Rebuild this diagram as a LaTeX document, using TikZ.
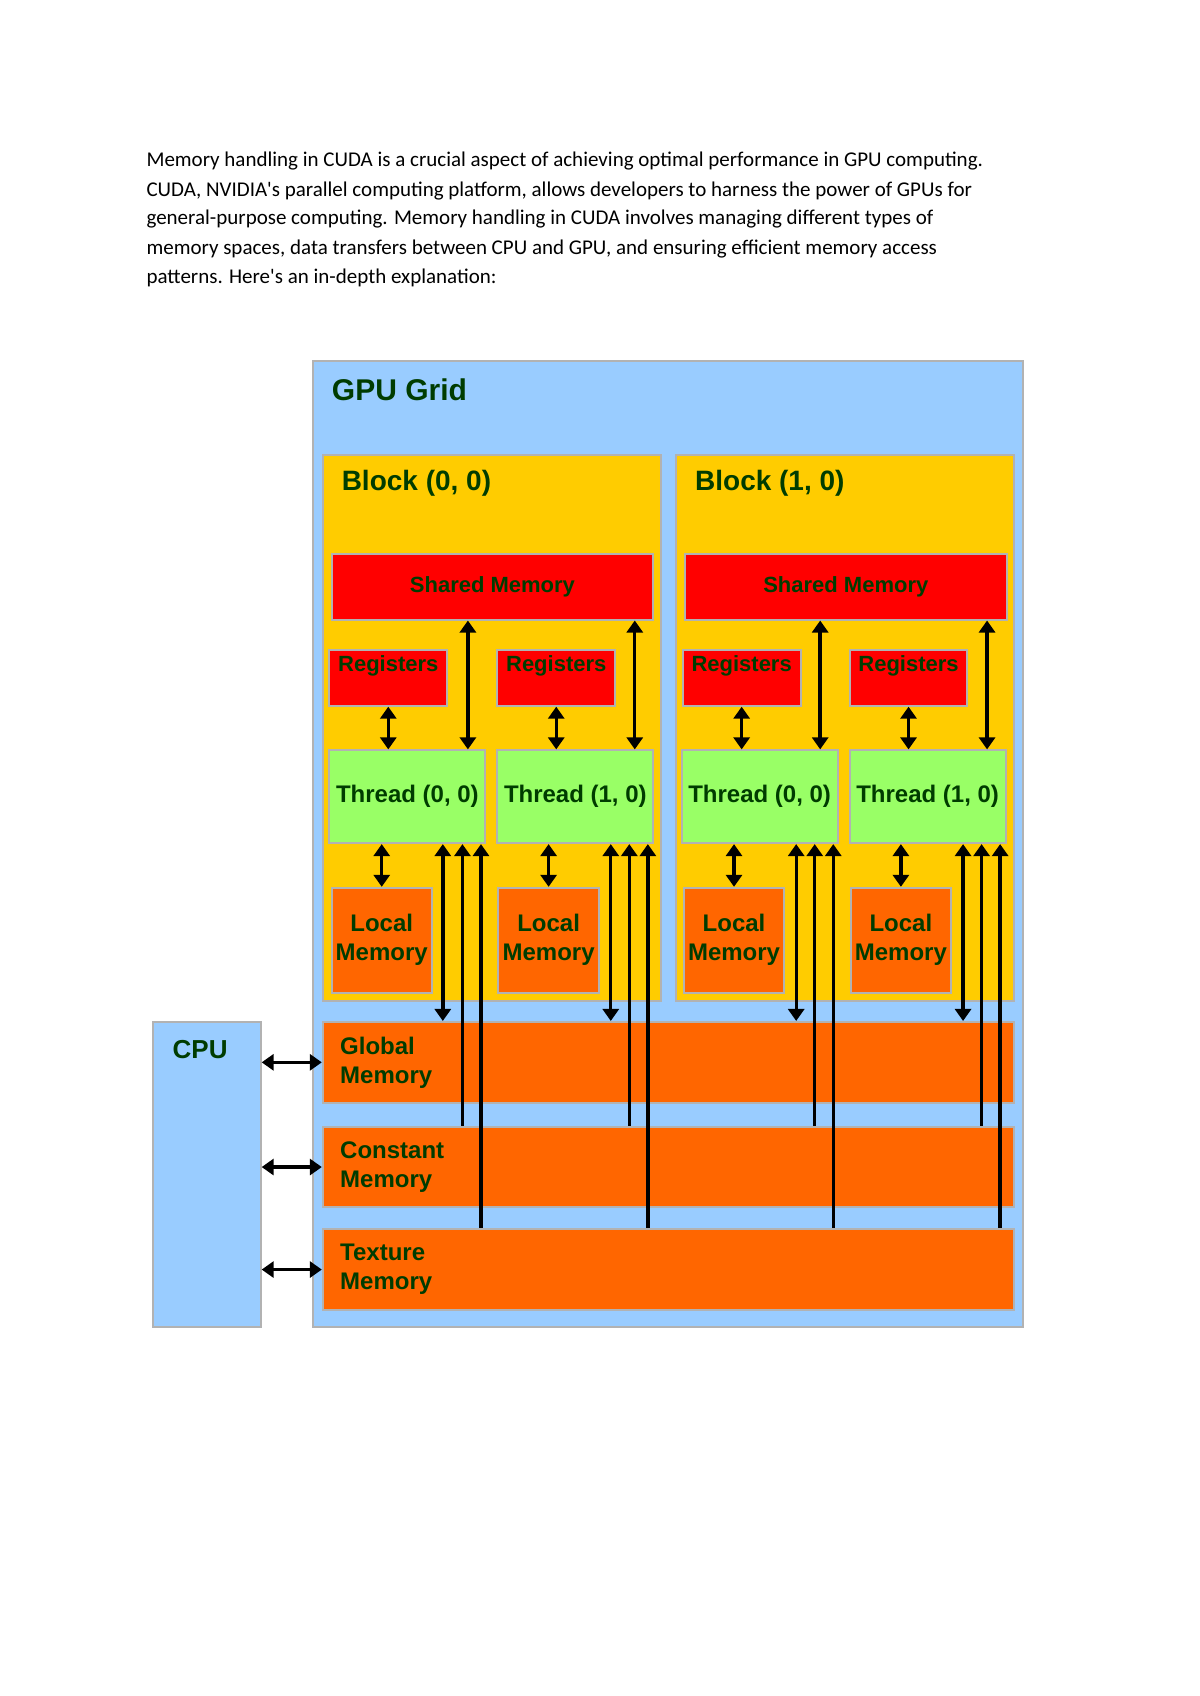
\documentclass[tikz,border=0pt]{standalone}
\usepackage{fontspec}
\setmainfont{Liberation Sans}
\newfontfamily\bodyfont{Carlito}
\usetikzlibrary{arrows.meta,fit}
\definecolor{gridblue}{RGB}{153,204,255}
\definecolor{blockyel}{RGB}{255,204,0}
\definecolor{memred}{RGB}{255,0,0}
\definecolor{thrgreen}{RGB}{153,255,102}
\definecolor{memorange}{RGB}{255,102,0}
\definecolor{txtgreen}{RGB}{0,60,0}
\begin{document}
\begin{tikzpicture}[x=0.5455pt,y=-0.5455pt,
  box/.style={inner sep=0pt,draw=gray!60,line width=1pt},
  lbl/.style={text=txtgreen,font=\bfseries,inner sep=0pt,align=left},
  conn/.style={line width=1.7pt,black},
  dbl/.style={conn,{Triangle[width=8pt,length=6pt]}-{Triangle[width=8pt,length=6pt]}},
  upa/.style={conn,{Triangle[width=8pt,length=6pt]}-},
  body/.style={anchor=west,inner sep=0pt,font=\bodyfont\fontsize{10.5}{12}\selectfont}]
\useasboundingbox[fill=white] (0,0) rectangle (1100,1555);
% body text
\node[body] (l1) at (134,148) {Memory handling in CUDA is a crucial aspect of achieving optimal performance in GPU computing.};
\node[body] (l2) at (134,175) {CUDA, NVIDIA's parallel computing platform, allows developers to harness the power of GPUs for};
\node[body] (l3) at (134,201) {general-purpose computing. Memory handling in CUDA involves managing different types of};
\node[body] (l4) at (134,228) {memory spaces, data transfers between CPU and GPU, and ensuring efficient memory access};
\node[body] (l5) at (134,255) {patterns. Here's an in-depth explanation:};
% grid and CPU
\node[box,fill=gridblue,fit={(287,331) (938,1217)}] (grid) {};
\node[lbl,anchor=west,font=\bfseries\fontsize{15}{18}\selectfont] (gt) at (304,357) {GPU Grid};
\node[box,fill=gridblue,fit={(140,937) (239,1217)}] (cpu) {};
\node[lbl,anchor=west,font=\bfseries\fontsize{13}{16}\selectfont] (ct) at (158,962) {CPU};
% blocks
\foreach \b/\bx/\name in {0/296/{Block (0, 0)},1/620/{Block (1, 0)}}{
  \node[box,fill=blockyel,fit={(\bx,417) (\bx+310,918)}] (blk\b) {};
  \node[lbl,anchor=west,font=\bfseries\fontsize{14}{17}\selectfont] (bt\b) at (\bx+17,443) {\name};
  \node[box,fill=memred,fit={(\bx+8,508) (\bx+303,568)}] (sm\b) {};
  \node[lbl,font=\bfseries\fontsize{11}{13}\selectfont] at (sm\b) {Shared Memory};
}
% threads, registers, local memories
\foreach \id/\rx/\tx/\lx/\tn in {a/302/302/304/{Thread (0, 0)},b/456/456/457/{Thread (1, 0)},c/626/625/627/{Thread (0, 0)},d/779/779/780/{Thread (1, 0)}}{
  \node[box,fill=memred,fit={(\rx,596) (\rx+108,647)}] (r\id) {};
  \node[lbl,anchor=north,font=\bfseries\fontsize{11}{13}\selectfont] at ([yshift=-3pt]r\id.north) {Registers};
  \node[box,fill=thrgreen,fit={(\tx,688) (\tx+143,773)}] (t\id) {};
  \node[lbl,font=\bfseries\fontsize{12}{14}\selectfont] at (t\id) {\tn};
  \node[box,fill=memorange,fit={(\lx,814) (\lx+92,910)}] (lm\id) {};
  \node[lbl,align=center,font=\bfseries\fontsize{12}{14.5}\selectfont] at (lm\id) {Local\\Memory};
}
% global memories
\foreach \m/\y/\txt in {gm/937/{Global\\Memory},cm/1033/{Constant\\Memory},tm/1127/{Texture\\Memory}}{
  \node[box,fill=memorange,fit={(296,\y) (930,\y+74)}] (\m) {};
  \node[lbl,anchor=west,font=\bfseries\fontsize{12}{14.5}\selectfont] at ([xshift=9pt]\m.west) {\txt};
  \draw[dbl] (cpu.east |- \m.west) -- (\m.west);
}
% x positions of vertical connectors
\foreach \n/\x in {sa/429,sb/582,sc/752,sd/905,
  ga/406,gb/560,gc/730,gd/883,ka/424,kb/577,kc/747,kd/900,xa/441,xb/594,xc/764,xd/917}{
  \coordinate (\n) at (\x,0);
}
\foreach \id/\b in {a/0,b/0,c/1,d/1}{
  \draw[dbl] (r\id.south) -- (r\id.south |- t\id.north);
  \draw[dbl] (sm\b.south -| s\id) -- (t\id.north -| s\id);
  \draw[dbl] (lm\id.north |- t\id.south) -- (lm\id.north);
  \draw[dbl] (t\id.south -| g\id) -- (gm.north -| g\id);
  \draw[upa] (t\id.south -| k\id) -- (cm.north -| k\id);
  \draw[upa] (t\id.south -| x\id) -- (tm.north -| x\id);
}
\end{tikzpicture}
\end{document}
